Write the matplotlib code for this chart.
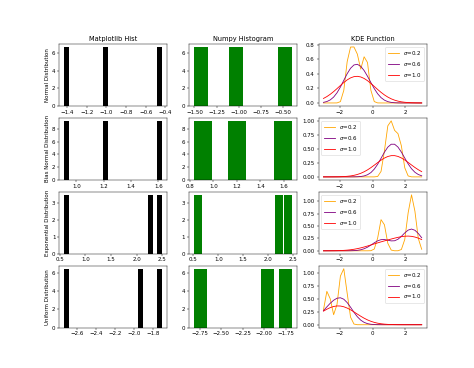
import numpy as np
import matplotlib
matplotlib.use("Agg")
import matplotlib.pyplot as plt

# three sample points per distribution
normal = np.array([-1.43, -1.01, -0.43])
bias_normal = np.array([0.91, 1.21, 1.63])
exponential = np.array([0.586, 2.27, 2.50])
uniform = np.array([-2.74, -1.94, -1.70])

datasets = [normal, bias_normal, exponential, uniform]
row_labels = ["Normal Distribution", "Bias Normal Distribution",
              "Exponential Distribution", "Uniform Distribution"]
col_titles = ["Matplotlib Hist", "Numpy Histogram", "KDE Function"]

sigmas = [0.2, 0.6, 1.0]
sigma_colors = ["orange", "purple", "red"]


def kde(x, data, sigma):
    # gaussian kernel density estimate
    total = np.zeros_like(x)
    for d in data:
        total += np.exp(-(x - d) ** 2 / (2 * sigma ** 2)) / (sigma * np.sqrt(2 * np.pi))
    return total / len(data)


x_grid = np.linspace(-3, 3, 30)

fig, axes = plt.subplots(4, 3, figsize=(11.85, 9.2), dpi=40)

for i, data in enumerate(datasets):
    # matplotlib hist
    ax = axes[i, 0]
    ax.hist(data, bins=20, density=True, color="black")
    ax.set_ylabel(row_labels[i])

    # numpy histogram
    ax = axes[i, 1]
    hist, edges = np.histogram(data, bins=20, density=True)
    ax.bar(edges[:-1], hist, width=0.155, color="green")

    # kde
    ax = axes[i, 2]
    for s, c in zip(sigmas, sigma_colors):
        ax.plot(x_grid, kde(x_grid, data, s), color=c, label=r"$\sigma$=" + str(s))
    ax.legend()

for j, t in enumerate(col_titles):
    axes[0, j].set_title(t)

fig.savefig("out.png")
